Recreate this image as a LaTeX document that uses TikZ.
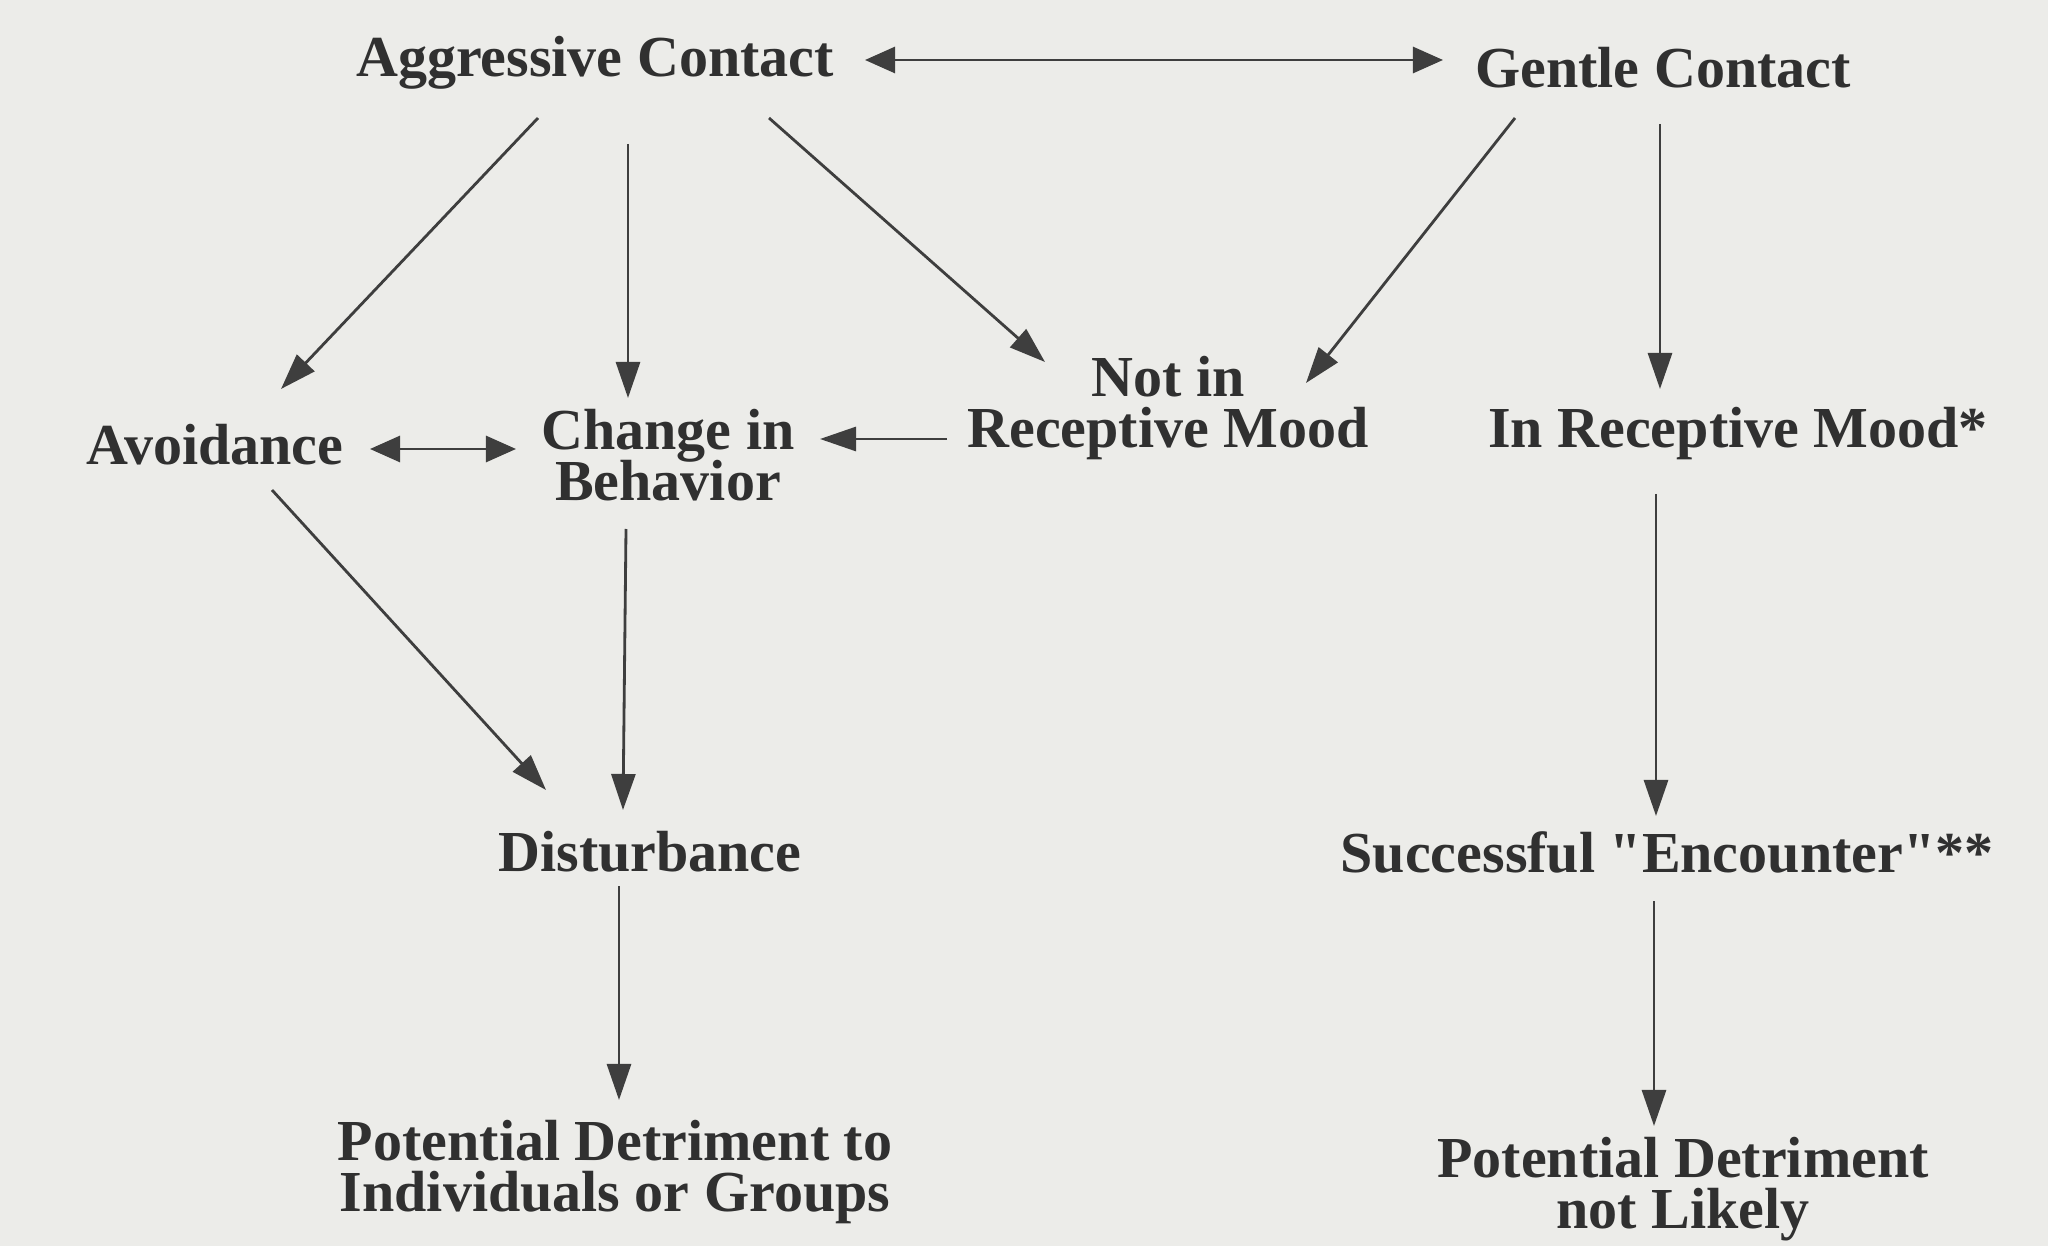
\documentclass[tikz,border=0pt]{standalone}
\usepackage{fontspec}
\setmainfont{Liberation Serif}[Ligatures=TeXOff]
\usetikzlibrary{arrows.meta}
\definecolor{paper}{RGB}{236,236,233}
\definecolor{ink}{RGB}{48,48,48}
\definecolor{arrowink}{RGB}{62,62,62}
\newcommand\lblfont{\fontsize{16.5pt}{14.6pt}\selectfont\bfseries\lineskiplimit-30pt\relax}
\tikzset{
  lbl/.style={font=\lblfont, text=ink, align=center, inner sep=0pt},
  arr/.style={draw=arrowink, line width=0.8pt, -{Triangle[length=0.36cm, width=0.24cm]}},
  darr/.style={draw=arrowink, line width=0.8pt, {Triangle[length=0.3cm, width=0.26cm]}-{Triangle[length=0.3cm, width=0.26cm]}}
}
\begin{document}
\begin{tikzpicture}[x=0.01cm, y=-0.01cm]
\fill[paper] (0,0) rectangle (2048,1246);
\useasboundingbox (0,0) rectangle (2048,1246);
\node[lbl] (AC) at (595,63) {Aggressive Contact};
\node[lbl] (GC) at (1663,68) {Gentle Contact};
\node[lbl] (Av) at (215,445) {Avoidance};
\node[lbl] (CB) at (668,455) {Change in\\Behavior};
\node[lbl] (NR) at (1168,408) {Not in\\Receptive Mood};
\node[lbl] (IR) at (1738,434) {In Receptive Mood*};
\node[lbl] (Di) at (650,852) {Disturbance};
\node[lbl] (SE) at (1667,852) {Successful "Encounter"**};
\node[lbl] (PD1) at (615,1172) {Potential Detriment to\\Individuals or Groups};
\node[lbl] (PD2) at (1683,1189) {Potential Detriment\\not Likely};

\draw[darr] ([shift={(270,-3)}]AC.center) -- ([shift={(-220,-8)}]GC.center);
\draw[arr] ([shift={(-57,55)}]AC.center) -- ([shift={(66,-56)}]Av.center);
\draw[arr] ([shift={(33,81)}]AC.center) -- ([shift={(-40,-57)}]CB.center);
\draw[arr] ([shift={(174,55)}]AC.center) -- ([shift={(-123,-46)}]NR.center);
\draw[arr] ([shift={(-148,50)}]GC.center) -- ([shift={(138,-25)}]NR.center);
\draw[arr] ([shift={(-3,56)}]GC.center) -- ([shift={(-78,-45)}]IR.center);
\draw[darr] ([shift={(155,4)}]Av.center) -- ([shift={(-152,-6)}]CB.center);
\draw[arr] ([shift={(-221,31)}]NR.center) -- ([shift={(152,-16)}]CB.center);
\draw[arr] ([shift={(57,45)}]Av.center) -- ([shift={(-104,-62)}]Di.center);
\draw[arr] ([shift={(-42,74)}]CB.center) -- ([shift={(-27,-42)}]Di.center);
\draw[arr] ([shift={(-82,60)}]IR.center) -- ([shift={(-11,-36)}]SE.center);
\draw[arr] ([shift={(-31,34)}]Di.center) -- ([shift={(4,-72)}]PD1.center);
\draw[arr] ([shift={(-13,49)}]SE.center) -- ([shift={(-29,-63)}]PD2.center);
\end{tikzpicture}
\end{document}
